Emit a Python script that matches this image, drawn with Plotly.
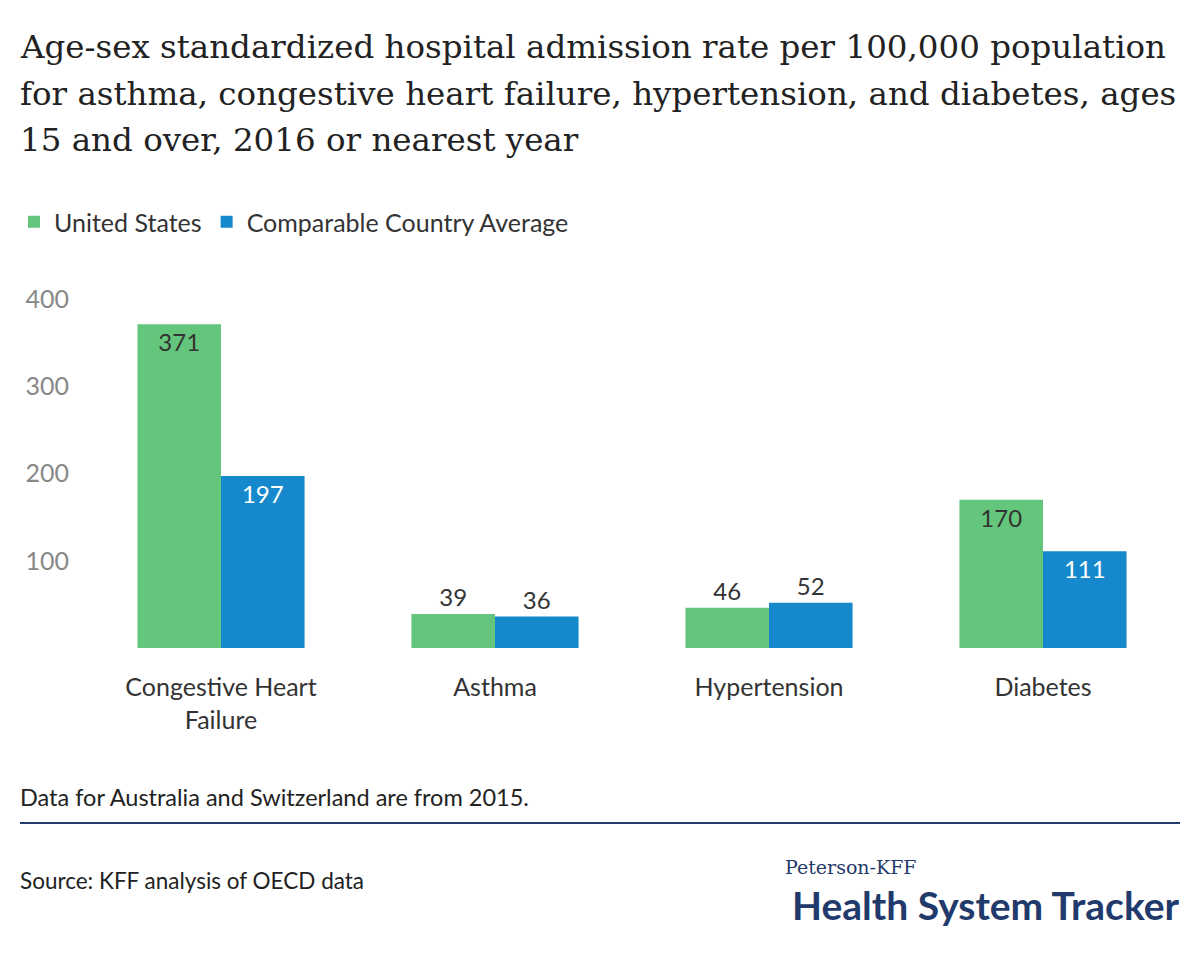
import plotly.graph_objects as go

categories = ["Congestive Heart<br>Failure", "Asthma", "Hypertension", "Diabetes"]
us_values = [371, 39, 46, 170]
avg_values = [197, 36, 52, 111]
y_ticks = [100, 200, 300, 400]
title_lines = ["Age-sex standardized hospital admission rate per 100,000 population",
               "for asthma, congestive heart failure, hypertension, and diabetes, ages",
               "15 and over, 2016 or nearest year"]

OFF = 8  # page body margin
W, H = 1200 - 2 * OFF, 968 - 2 * OFF
L, R, T, B = 84, 1180, 299, 648  # plot area in target pixels

fig = go.Figure()
pos = ["inside", "outside", "outside", "inside"]
fig.add_bar(x=categories, y=us_values, name="United States", marker_color="#64c67c",
            text=us_values, textposition=pos, insidetextanchor="end",
            textfont=dict(size=24, color="#333"), cliponaxis=False)
fig.add_bar(x=categories, y=avg_values, name="Comparable Country Average", marker_color="#1589cb",
            text=avg_values, textposition=pos, insidetextanchor="end",
            insidetextfont=dict(size=24, color="white"),
            outsidetextfont=dict(size=24, color="#333"), cliponaxis=False)

fig.update_layout(
    width=W, height=H, template="none", paper_bgcolor="white", plot_bgcolor="white",
    font=dict(family="Lato", color="#333"),
    barmode="group", bargap=0.39, bargroupgap=0,
    margin=dict(l=L - OFF, r=W - (R - OFF), t=T - OFF, b=H - (B - OFF), pad=0),
    showlegend=True,
    legend=dict(orientation="h", x=(14 - OFF) / W, xref="container", y=1 - (222 - OFF) / H,
                yref="container", yanchor="middle", xanchor="left",
                font=dict(size=25, color="#333"), itemwidth=30, traceorder="normal"),
    xaxis=dict(showline=False, showgrid=False, ticks="", tickfont=dict(size=25, color="#333"),
               ticklabelstandoff=22),
    yaxis=dict(range=[0, 400], tickvals=y_ticks, showgrid=False, zeroline=False, showline=False,
               tickfont=dict(size=25, color="#888"), ticklabelstandoff=14),
)

pw, ph = R - L, B - T
def px(x):
    return (x - L) / pw
def py(y):
    return (B - y) / ph

anns = []
for line, yy in zip(title_lines, [47, 94, 140]):
    anns.append(dict(text=line, x=px(18), y=py(yy), xanchor="left", yanchor="middle",
                     font=dict(family="DejaVu Serif", size=32.5, color="#222")))
anns += [
    dict(text="Data for Australia and Switzerland are from 2015.", x=px(18), y=py(797),
         xanchor="left", yanchor="middle", font=dict(size=23.5, color="#222")),
    dict(text="Source: KFF analysis of OECD data", x=px(18), y=py(880),
         xanchor="left", yanchor="middle", font=dict(size=22.5, color="#222")),
    dict(text="Peterson-KFF", x=px(783), y=py(867), xanchor="left", yanchor="middle",
         font=dict(family="DejaVu Serif", size=19, color="#1f3a6b")),
    dict(text="<b>Health System Tracker</b>", x=px(1182), y=py(905), xanchor="right",
         yanchor="middle", font=dict(family="Lato", size=39, color="#1f3a6b")),
]
for a in anns:
    a.update(xref="paper", yref="paper", showarrow=False)
fig.update_layout(annotations=anns)
fig.add_shape(type="line", xref="paper", yref="paper", x0=px(20), x1=px(1180),
              y0=py(823), y1=py(823), line=dict(color="#1f3a6b", width=2))

fig.write_html("out.html")
